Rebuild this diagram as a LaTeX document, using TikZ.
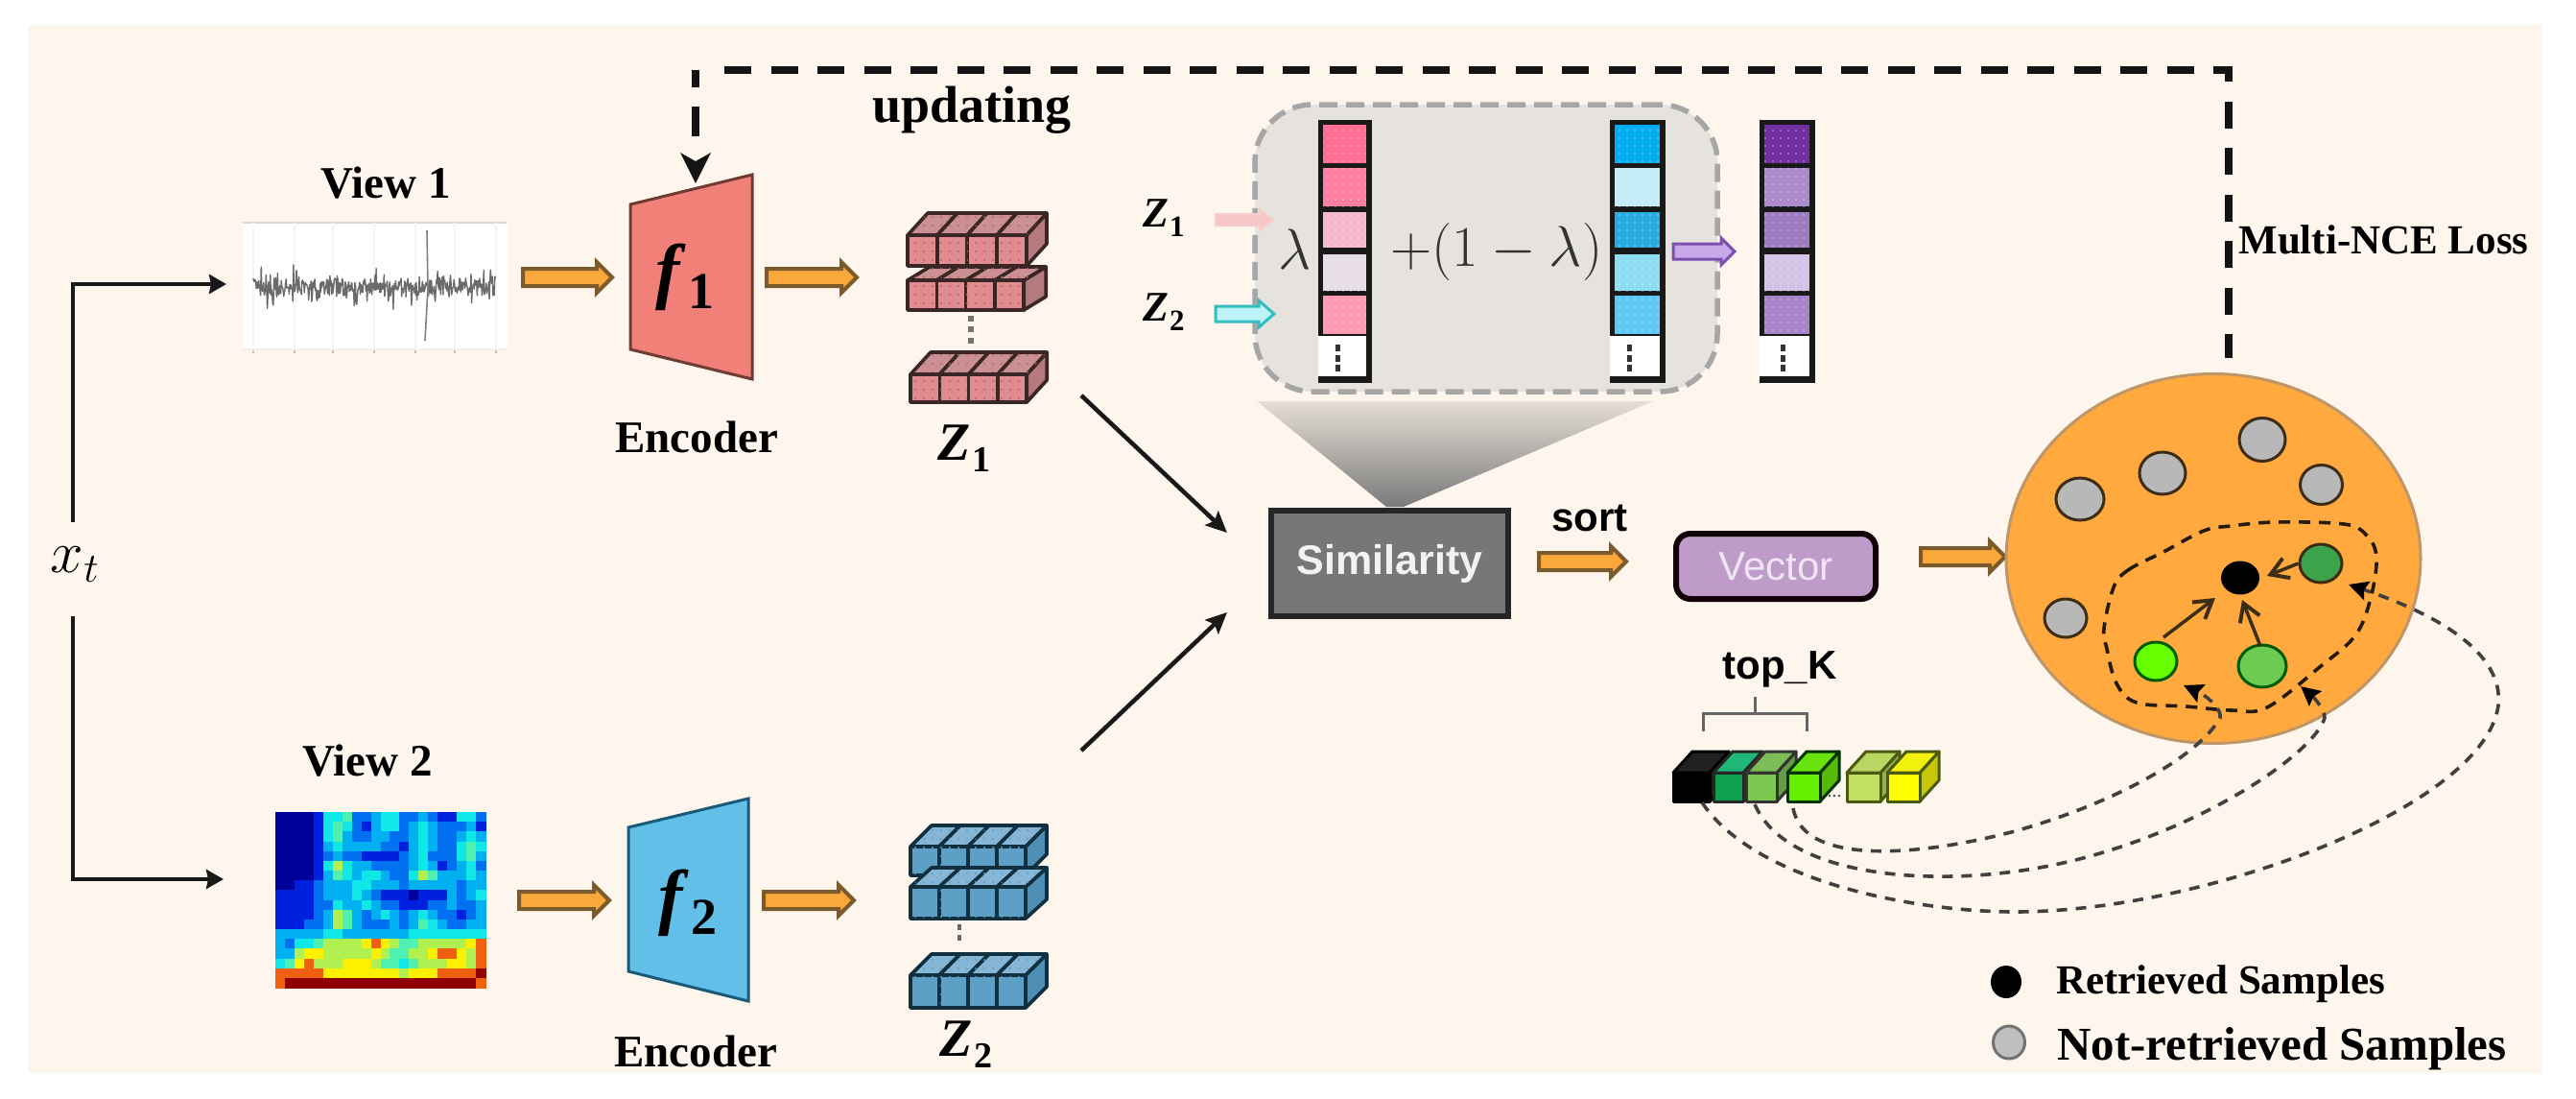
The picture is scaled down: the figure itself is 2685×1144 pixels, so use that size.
\RequirePackage{fix-cm}
\documentclass[tikz,border=0pt]{standalone}
\usepackage{fontspec}
\setmainfont{Liberation Serif}
\newfontfamily\arialf{Liberation Sans}
\usetikzlibrary{arrows.meta,calc,shapes.geometric,patterns.meta}
\definecolor{bgc}{HTML}{FEF6EC}
\definecolor{orangec}{HTML}{FBA83A}
\definecolor{orangee}{HTML}{7B5A2B}
\definecolor{j0}{HTML}{00009A}\definecolor{j1}{HTML}{0020E0}\definecolor{j2}{HTML}{0070F0}
\definecolor{j3}{HTML}{00B0F0}\definecolor{j4}{HTML}{10E8E8}\definecolor{j5}{HTML}{50F0B0}
\definecolor{j6}{HTML}{B0F050}\definecolor{j7}{HTML}{FFF000}\definecolor{j8}{HTML}{F06010}\definecolor{j9}{HTML}{900000}
\definecolor{zrf}{HTML}{E08C90}\definecolor{zrt}{HTML}{CB9094}\definecolor{zrs}{HTML}{B47A7E}\definecolor{zre}{HTML}{3A2624}\definecolor{zrd}{HTML}{B86870}
\definecolor{zbf}{HTML}{5E9FC6}\definecolor{zbt}{HTML}{86B6D6}\definecolor{zbs}{HTML}{4F8FB5}\definecolor{zbe}{HTML}{10303F}
\definecolor{kdg}{HTML}{0FA050}\definecolor{kdt}{HTML}{20B878}\definecolor{kmd}{HTML}{7CC850}\definecolor{kbr}{HTML}{66EE00}
\definecolor{klt}{HTML}{BFE060}\definecolor{kye}{HTML}{FFFF00}\definecolor{kol}{HTML}{4A5A10}\definecolor{kbk}{HTML}{202020}
\newcommand\sz[1]{\fontsize{#1}{#1}\selectfont}
% fat horizontal arrow between two named coordinates
\newcommand\fatarr[6][]{\draw[#1] ($(#2)+(0,-#4)$) -- ($(#3)+(-#6,-#4)$) -- ($(#3)+(-#6,-#5)$) -- (#3) -- ($(#3)+(-#6,#5)$) -- ($(#3)+(-#6,#4)$) -- ($(#2)+(0,#4)$) -- cycle;}
\newcommand\orarr[2]{\fatarr[orangearrow]{#1}{#2}{9}{16}{16}}
% cube: x, y of front top left, w, h, front, top, edge
\newcommand\cubeb[7]{%
 \begin{scope}[line width=3pt,draw=#7,line join=round]
 \filldraw[fill=#6!82!black] (#1+#3,#2) -- (#1+#3+20,#2-22) -- (#1+#3+20,#2-22+#4) -- (#1+#3,#2+#4) -- cycle;
 \filldraw[fill=#6] (#1,#2) -- (#1+20,#2-22) -- (#1+#3+20,#2-22) -- (#1+#3,#2) -- cycle;
 \filldraw[fill=#5] (#1,#2) rectangle (#1+#3,#2+#4);
 \end{scope}}
\newcommand\cellrow[9]{% x y cellw h dx dy front top side ; uses \edgec \dotc
 \begin{scope}[line width=3.6pt,draw=\edgec,line join=round]
 \foreach \k in {0,1,2,3}{
  \pgfmathsetmacro\xa{#1+\k*#3}\pgfmathsetmacro\xb{\xa+#3}
  \filldraw[fill=#9] (\xb,#2) -- (\xb+#5,#2-#6) -- (\xb+#5,#2-#6+#4) -- (\xb,#2+#4) -- cycle;
  \filldraw[fill=#8,postaction={pattern={Dots[distance=9pt,radius=1.1pt]},pattern color=\dotc}] (\xa,#2) -- (\xa+#5,#2-#6) -- (\xb+#5,#2-#6) -- (\xb,#2) -- cycle;
  \filldraw[fill=#7,postaction={pattern={Dots[distance=9pt,radius=1.1pt]},pattern color=\dotc}] (\xa,#2) rectangle (\xb,#2+#4);
 }
 \end{scope}}
\newcommand\vbarc[8]{% x1 x2 c1..c5 dotx
 \fill[black!90] (#1,125) rectangle (#2,399);
 \foreach \ya/\yb/\cc in {130/170/#3,175/215/#4,221/258/#5,265/303/#6,308/348/#7}{
  \fill[\cc] (#1+5,\ya) rectangle (#2-6,\yb);
  \fill[pattern={Dots[distance=8pt,radius=1.1pt]},pattern color=white,opacity=.35] (#1+5,\ya) rectangle (#2-6,\yb);
 }
 \fill[white] (#1,350) rectangle (#2-6,392);
 \foreach \yy in {362,373,383}{\fill[black!80] (#8-2.5,\yy-3.5) rectangle (#8+2.5,\yy+3.5);}
}
\tikzset{
 ttext/.style={inner sep=0pt,font=\bfseries\sz{#1}},
 atext/.style={inner sep=0pt,font=\arialf\bfseries\sz{#1}},
 orangearrow/.style={fill=orangec,draw=orangee,line width=4pt,line join=miter},
 blackarrow/.style={draw=black!90,line width=4.5pt,-{Stealth[length=22pt,width=20pt,inset=4pt]}},
 bigdash/.style={draw=black!92,line width=8pt},
 curvedash/.style={draw=black!75,line width=3.6pt,dash pattern=on 11pt off 9pt,-{Stealth[length=20pt,width=20pt,inset=3pt,black]}},
 inarrow/.style={draw=black!50!orangee,line width=3.5pt,-{Straight Barb[length=18pt,width=22pt,line width=4pt]}},
 oval/.style={ellipse,inner sep=0pt,line width=3pt},
 greyoval/.style={oval,fill=black!28,draw=black!50!orangee},
}
\begin{document}
\begin{tikzpicture}[x=1pt,y=-1pt]
\path[use as bounding box,fill=white] (0,0) rectangle (2685,1144);
\fill[bgc] (29,26) rectangle (2650,1118);

% ---- input
\node[inner sep=0pt,font=\sz{62}] (xt) at (78,588) {$x_t$};
\coordinate (xtop) at (76,296);
\coordinate (xbot) at (76,916);
\coordinate (v1in) at (236,296);
\coordinate (v2in) at (233,916);
\draw[draw=black!90,line width=4.5pt,-{Stealth[length=18pt,width=20pt,inset=2pt]}] (76,544) -- (xtop) -- (v1in);
\draw[draw=black!90,line width=4.5pt,-{Stealth[length=18pt,width=20pt,inset=2pt]}] (76,642) -- (xbot) -- (v2in);

% ---- view 1 plot
\node[ttext=47] (view1) at (402,191) {View 1};
\node[fill=white,inner sep=0pt,minimum width=276pt,minimum height=133pt] (plot1) at (390.5,297.5) {};
\draw[black!16,line width=2.5pt] (253,232) -- (528,232);
\foreach \xx in {264,307,347,390,433,474,517}{
 \draw[black!4,line width=1.5pt] (\xx,232) -- (\xx,364);
 \draw[black!25,line width=2pt] (\xx,364) -- (\xx,368);
}
\draw[black!6,line width=1.5pt] (253,364) -- (528,364);
\pgfmathsetseed{17}
\draw[black!58,line width=1.4pt,line join=round] plot[samples=400,domain=264:517] (\x,{299+rand*rand*rand*24+rand*9});
\draw[black!50,line width=1.6pt] (445,240) -- (446,300) -- (443,355);

% ---- view 2 spectrogram
\node[ttext=47] (view2) at (383,793) {View 2};
\foreach \rowv [count=\r] in {
 {0,0,0,0,1,4,4,5,2,2,3,4,4,2,2,3,2,1,1,4,4,2},
 {0,0,0,0,1,4,5,4,2,1,3,4,4,2,3,4,3,2,2,2,3,1},
 {0,0,0,0,1,4,5,3,2,2,3,3,2,2,3,4,3,2,2,3,4,3},
 {0,0,0,0,1,3,4,3,3,3,3,2,2,1,3,4,3,2,2,4,5,4},
 {0,0,0,0,1,2,3,2,2,1,1,1,1,2,3,4,2,2,2,4,5,3},
 {0,0,0,0,1,4,6,4,3,3,2,2,2,2,3,4,3,1,2,3,4,2},
 {0,0,0,0,1,3,5,4,3,4,4,3,2,2,4,6,5,3,3,3,4,3},
 {0,0,1,1,2,3,3,3,4,4,3,3,3,2,3,3,3,3,3,2,3,3},
 {1,1,1,1,2,3,3,3,4,3,2,1,1,1,0,1,1,1,3,2,3,4},
 {1,1,1,1,2,2,4,3,3,4,3,2,2,1,1,1,2,2,3,2,2,3},
 {1,1,1,1,2,3,6,5,3,2,3,4,3,2,3,4,3,2,2,1,2,3},
 {1,1,1,2,2,3,6,5,3,2,2,2,3,2,3,5,4,3,2,2,3,3},
 {3,3,3,3,3,4,4,3,3,3,3,3,3,3,4,4,4,4,4,4,4,4},
 {3,2,4,4,5,6,6,6,6,7,8,7,6,5,5,6,6,6,6,6,7,8},
 {3,3,6,7,7,6,6,6,6,6,7,6,5,5,6,6,7,8,8,7,6,8},
 {4,5,7,8,6,6,6,7,7,7,6,5,5,4,5,6,6,6,7,7,6,8},
 {8,8,8,8,8,7,7,7,7,7,7,7,7,6,7,7,7,8,8,8,8,9},
 {8,9,9,9,9,9,9,9,9,9,9,9,9,9,9,9,9,9,9,9,9,8}}{
 \foreach \v [count=\c] in \rowv {
  \fill[j\v] ({287+(\c-1)*9.955},{846+(\r-1)*10.17}) rectangle ({287+\c*9.955+.5},{846+\r*10.17+.5});
 }
}

% ---- encoders
\filldraw[fill={rgb,255:red,240;green,128;blue,120},draw={rgb,255:red,110;green,60;blue,50},line width=3pt] (657,213) -- (784,182) -- (784,395) -- (657,364) -- cycle;
\node[inner sep=0pt,font=\bfseries\sz{76}] (f1) at (714,289) {\textit{f}\kern3pt\raisebox{-14pt}{\sz{54}1}};
\node[ttext=47] (enc1) at (726,455) {Encoder};
\filldraw[fill={rgb,255:red,98;green,192;blue,232},draw={rgb,255:red,25;green,90;blue,120},line width=3pt] (655,862) -- (780,832) -- (780,1043) -- (655,1012) -- cycle;
\node[inner sep=0pt,font=\bfseries\sz{76}] (f2) at (717,941) {\textit{f}\kern3pt\raisebox{-14pt}{\sz{54}2}};
\node[ttext=47] (enc2) at (725,1095) {Encoder};

% ---- orange arrows
\coordinate (a1s) at (545,289);\coordinate (a1e) at (638,289);
\coordinate (a2s) at (799,289);\coordinate (a2e) at (893,289);
\coordinate (a3s) at (541,938);\coordinate (a3e) at (635,938);
\coordinate (a4s) at (796,938);\coordinate (a4e) at (890,938);
\coordinate (a5s) at (1604,585);\coordinate (a5e) at (1695,585);
\coordinate (a6s) at (2002,580);\coordinate (a6e) at (2090,580);
\orarr{a1s}{a1e}\orarr{a2s}{a2e}\orarr{a3s}{a3e}\orarr{a4s}{a4e}\orarr{a5s}{a5e}\orarr{a6s}{a6e}

% ---- Z1 stacks
\def\edgec{zre}\def\dotc{zrd}
\cellrow{946}{245}{31}{32}{21}{23}{zrf}{zrt}{zrs}
\cellrow{946}{292}{30.3}{31}{23}{14}{zrf}{zrt}{zrs}
\cellrow{949}{390}{30.3}{29}{21}{23}{zrf}{zrt}{zrs}
\foreach \yy in {332,343,355}{\fill[black!55] (1009,\yy-3) rectangle (1015,\yy+3);}
\node[inner sep=0pt,font=\bfseries\sz{56}] (z1) at (1005,467) {\textit{Z}\kern1pt\raisebox{-12pt}{\sz{38}1}};

% ---- Z2 stacks
\def\edgec{zbe}\def\dotc{zbf}
\cellrow{949}{882}{30}{30}{22}{22}{zbf}{zbt}{zbs}
\cellrow{949}{924}{30}{33}{22}{20}{zbf}{zbt}{zbs}
\cellrow{949}{1016}{30}{34}{22}{22}{zbf}{zbt}{zbs}
\foreach \yy in {966,977}{\fill[black!60] (998,\yy-3) rectangle (1002,\yy+3);}
\node[inner sep=0pt,font=\bfseries\sz{56}] (z2) at (1007,1088) {\textit{Z}\kern1pt\raisebox{-12pt}{\sz{38}2}};

% ---- cone + mixing box
\shade[top color=bgc!90!black,bottom color=black!52] (1310,418) -- (1723,418) -- (1463,528) -- (1445,528) -- cycle;
\node[draw=black!35,fill={rgb,255:red,230;green,227;blue,222},line width=5.5pt,dash pattern=on 19pt off 9pt,rounded corners=60pt,minimum width=482pt,minimum height=299pt,inner sep=0pt] (mix) at (1549,258.5) {};
\definecolor{p1}{HTML}{FF6F93}\definecolor{p2}{HTML}{FF7FA0}\definecolor{p3}{HTML}{F5B8CC}\definecolor{p4}{HTML}{E8DEE6}\definecolor{p5}{HTML}{FF9AB5}
\definecolor{b1}{HTML}{00AEEF}\definecolor{b2}{HTML}{C5EDF8}\definecolor{b3}{HTML}{29ABE2}\definecolor{b4}{HTML}{8FDDF0}\definecolor{b5}{HTML}{5FC8F5}
\definecolor{u1}{HTML}{7030A0}\definecolor{u2}{HTML}{AC8BCB}\definecolor{u3}{HTML}{9E7CC1}\definecolor{u4}{HTML}{D4C3E5}\definecolor{u5}{HTML}{A884C8}
\vbarc{1374}{1430}{p1}{p2}{p3}{p4}{p5}{1394}
\vbarc{1678}{1736}{b1}{b2}{b3}{b4}{b5}{1698}
\vbarc{1834}{1892}{u1}{u2}{u3}{u4}{u5}{1858}
\node[inner sep=0pt,font=\sz{60},text=black!80] (lam) at (1350,260) {$\lambda$};
\node[inner sep=0pt,font=\sz{60},text=black!80] (mixt) at (1560,262) {$+(1-\lambda)$};
\node[inner sep=0pt,font=\bfseries\sz{44}] (zs1) at (1213,227) {\textit{Z}\kern1pt\raisebox{-10pt}{\sz{31}1}};
\node[inner sep=0pt,font=\bfseries\sz{44}] (zs2) at (1213,325) {\textit{Z}\kern1pt\raisebox{-10pt}{\sz{31}2}};
\coordinate (p1s) at (1267,229);\coordinate (p1e) at (1327,229);
\coordinate (p2s) at (1267,327);\coordinate (p2e) at (1328,327);
\coordinate (p3s) at (1744,262);\coordinate (p3e) at (1808,262);
\fatarr[fill={rgb,255:red,247;green,197;blue,197},draw={rgb,255:red,247;green,205;blue,205},line width=2pt]{p1s}{p1e}{6}{11}{14}
\fatarr[fill={rgb,255:red,190;green,243;blue,247},draw={rgb,255:red,50;green,190;blue,190},line width=3pt]{p2s}{p2e}{8}{14}{16}
\fatarr[fill={rgb,255:red,200;green,168;blue,232},draw={rgb,255:red,123;green,79;blue,176},line width=3pt]{p3s}{p3e}{8}{14}{14}

% ---- similarity + vector
\node[draw=black!85,fill={rgb,255:red,119;green,119;blue,122},line width=6pt,minimum width=247pt,minimum height=110pt,inner sep=0pt,font=\arialf\bfseries\sz{43},text=white!95!black] (sim) at (1448.5,587) {Similarity};
\node[atext=42] (sort) at (1657,540) {sort};
\node[draw=black!90!purple,fill={rgb,255:red,190;green,155;blue,201},line width=6pt,rounded corners=15pt,minimum width=208pt,minimum height=68pt,inner sep=0pt,font=\arialf\sz{42},text={rgb,255:red,240;green,228;blue,245}] (vec) at (1851,590) {Vector};

% ---- diagonal arrows
\coordinate (d1s) at (1127,412);\coordinate (d1e) at (1279,555);
\coordinate (d2s) at (1127,782);\coordinate (d2e) at (1279,638);
\draw[blackarrow] (d1s) -- (d1e);
\draw[blackarrow] (d2s) -- (d2e);

% ---- top dashed loop
\node[ttext=54] (upd) at (1013,115) {updating};
\node[ttext=43] (nce) at (2484.5,250) {Multi-NCE Loss};
\coordinate (lossa) at (2323,373);
\coordinate (lossb) at (2323,73);
\coordinate (lossc) at (755,73);
\coordinate (lossd) at (725,73);
\coordinate (losse) at (725,191);
\draw[bigdash,dash pattern=on 28pt off 20.5pt,dash phase=3pt] (lossa) -- (lossb) -- (lossc);
\draw[bigdash,dash pattern=on 18pt off 20pt on 31pt off 100pt] (lossd) -- (losse);
\draw[black!92,line width=1pt,-{Stealth[length=32pt,width=32pt,inset=9pt,line width=0pt]}] (725,185) -- (losse);

% ---- sample cloud
\node[ellipse,fill={rgb,255:red,255;green,169;blue,63},draw={rgb,255:red,190;green,150;blue,105},line width=3pt,inner sep=0pt,minimum width=432pt,minimum height=385pt] (cloud) at (2307,582) {};
\node[greyoval,minimum width=50pt,minimum height=44pt] (g1) at (2168,520) {};
\node[greyoval,minimum width=48pt,minimum height=44pt] (g2) at (2254,493) {};
\node[greyoval,minimum width=48pt,minimum height=45pt] (g3) at (2358,458) {};
\node[greyoval,minimum width=44pt,minimum height=41pt] (g4) at (2419.5,505) {};
\node[greyoval,minimum width=44pt,minimum height=40pt] (g5) at (2153,644) {};
\node[oval,fill=black,minimum width=40pt,minimum height=35pt] (anch) at (2335,602) {};
\node[oval,fill={rgb,255:red,61;green,163;blue,74},draw=black!50!orangee,minimum width=44pt,minimum height=40pt] (gd) at (2419,587) {};
\node[oval,fill={rgb,255:red,102;green,255;blue,0},draw=black!40!green!60!black,minimum width=44pt,minimum height=40pt] (gb) at (2247,689) {};
\node[oval,fill={rgb,255:red,108;green,203;blue,80},draw=black!40!green!60!black,minimum width=50pt,minimum height=44pt] (gm) at (2358,694) {};
\draw[draw=black!70!orangee,line width=3.6pt,dash pattern=on 12pt off 9pt] plot[smooth cycle,tension=.6] coordinates {(2203,612) (2218,594) (2255,575) (2297,553) (2325,548) (2372,544) (2443,546) (2466,557) (2477,580) (2471,623) (2455,662) (2419,694) (2363,737) (2326,740) (2279,736) (2227,732) (2206,712) (2196,676) (2193,655)};
\coordinate (t1) at (2309,623);\coordinate (t2) at (2337,625);\coordinate (t3) at (2363,600);
\draw[inarrow] (gb) ++(8,-25) -- (t1);
\draw[inarrow] (gm) ++(-2,-21) -- (t2);
\draw[inarrow] (gd.west) -- (t3);

% ---- top_K cubes
\node[atext=42] (topk) at (1855,697) {top\_K};
\draw[black!60,line width=3pt] (1775.5,762) -- (1775.5,743) -- (1883,743) -- (1883,762);
\draw[black!60,line width=3pt] (1829,726) -- (1829,743);
\cubeb{1744}{805}{38}{30}{black}{kbk}{black}
\cubeb{1786}{805}{31}{30}{kdg}{kdt}{black!85}
\cubeb{1820}{805}{32}{30}{kmd}{kmd!85!gray}{black!80}
\cubeb{1863}{805}{34}{30}{kbr}{kbr!90!gray}{black!80!green}
\node[inner sep=0pt,font=\sz{20},text=black!70] (kdots) at (1912,830) {...};
\cubeb{1925}{805}{35}{30}{klt}{klt!90!gray}{kol}
\cubeb{1967}{805}{34}{30}{kye}{kye!90!gray}{kol}

% ---- retrieval curves
\coordinate (kc1) at (1869,842);\coordinate (kc2) at (1829,838);\coordinate (kc3) at (1774,836);
\coordinate (h1) at (2276,714);\coordinate (h2) at (2398,715);\coordinate (h3) at (2448,609);
\draw[curvedash] (kc1) .. controls (1880,905) and (2010,890) .. (2100,866) .. controls (2200,838) and (2290,790) .. (2314,748) .. controls (2316,738) and (2300,725) .. (h1);
\draw[curvedash] (kc2) .. controls (1860,910) and (2000,925) .. (2120,905) .. controls (2270,880) and (2410,790) .. (2423,748) .. controls (2423,738) and (2410,725) .. (h2);
\draw[curvedash] (kc3) .. controls (1830,920) and (2000,950) .. (2100,950) .. controls (2300,950) and (2590,840) .. (2604,735) .. controls (2610,680) and (2540,640) .. (h3);

% ---- legend
\node[oval,fill=black,minimum width=32pt,minimum height=34pt] (lg1) at (2091,1023) {};
\node[oval,fill=black!25,draw=black!55,minimum width=33pt,minimum height=34pt] (lg2) at (2094,1086) {};
\node[ttext=43,anchor=west] (lt1) at (2143,1025) {Retrieved Samples};
\node[ttext=49,anchor=west] (lt2) at (2144,1093) {Not-retrieved Samples};
\end{tikzpicture}
\end{document}
